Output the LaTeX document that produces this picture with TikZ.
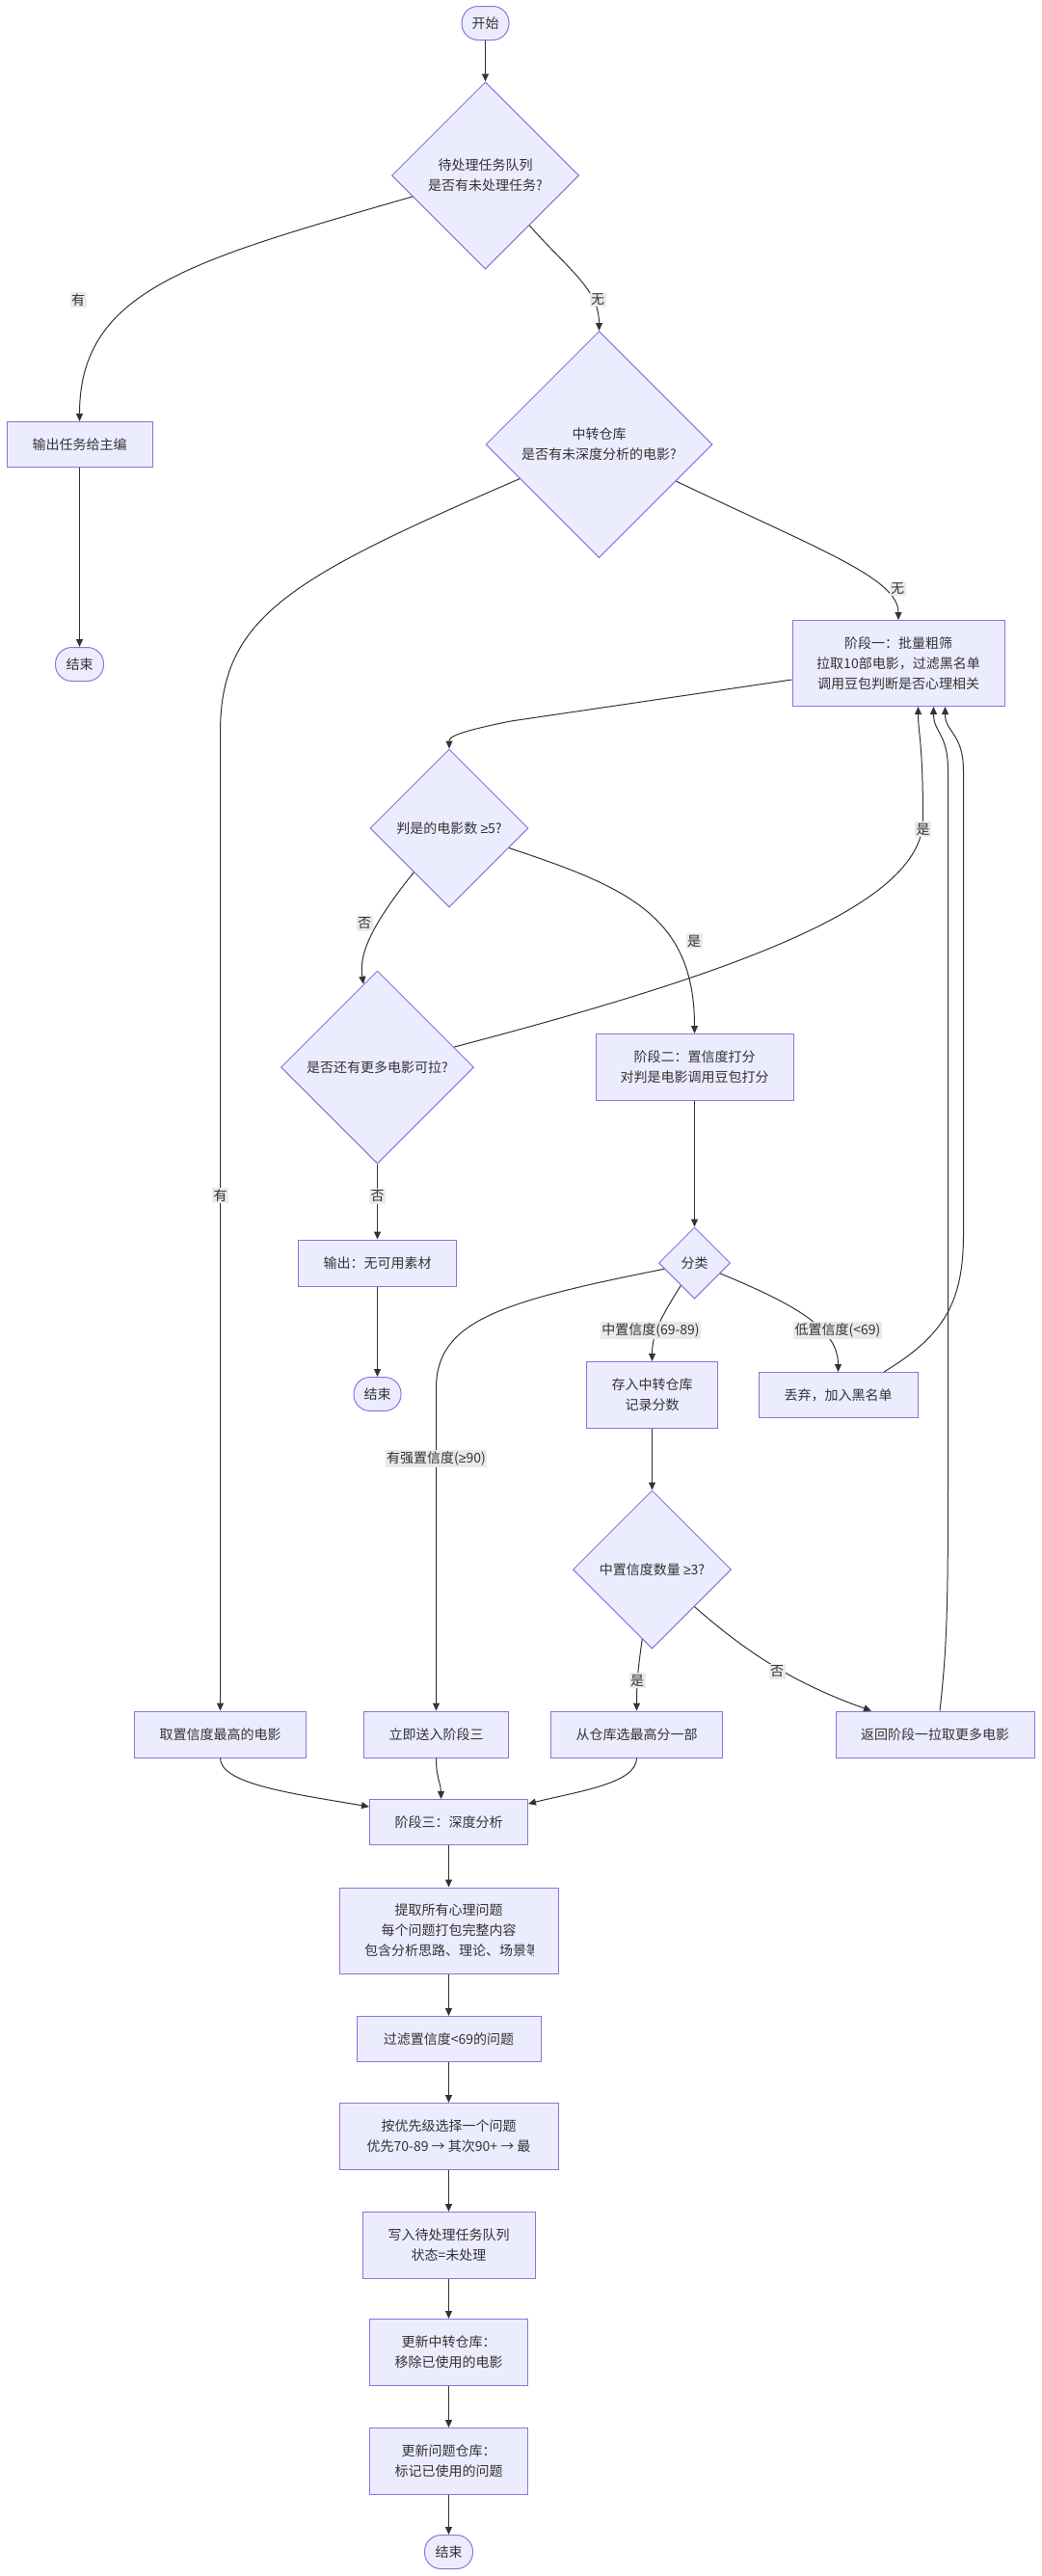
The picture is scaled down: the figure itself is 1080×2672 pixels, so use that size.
\documentclass[tikz,border=0pt]{standalone}
\usepackage{fontspec}
\setmainfont{Noto Sans CJK SC}
\newfontfamily\symf{Liberation Sans}
\newcommand{\mygeq}{{\symf ≥}}
\usetikzlibrary{shapes.geometric,arrows.meta}
\definecolor{nodefill}{HTML}{ECECFF}
\definecolor{nodeline}{HTML}{9370DB}
\definecolor{edgecol}{HTML}{333333}
\definecolor{txtcol}{HTML}{333333}
\definecolor{lblbg}{HTML}{EAEAEA}
\tikzset{
  basefont/.style={font=\fontsize{14}{21}\selectfont, text=txtcol},
  box/.style={basefont, rectangle, draw=nodeline, fill=nodefill, line width=1pt, inner sep=0pt, align=center},
  dec/.style={basefont, diamond, aspect=1, draw=nodeline, fill=nodefill, line width=1pt, inner sep=0pt, align=center},
  term/.style={box, rounded corners=17pt},
  lbl/.style={basefont, fill=lblbg, inner sep=1.5pt},
  flow/.style={draw=edgecol, line width=1pt, -{Triangle[length=8pt,width=7pt]}},
}
\begin{document}
\begin{tikzpicture}[x=1pt,y=-1pt]
\fill[white] (0,0) rectangle (1080,2672);
\useasboundingbox (0,0) rectangle (1080,2672);

% nodes
\node[term, minimum width=49pt, minimum height=35pt] (start) at (503.5,24) {开始};
\node[dec, minimum width=194pt, minimum height=194pt] (d1) at (503.5,182) {待处理任务队列\\是否有未处理任务?};
\node[box, minimum width=151pt, minimum height=47pt] (out1) at (82.5,461) {输出任务给主编};
\node[term, minimum width=50pt, minimum height=35pt] (end1) at (82.5,689) {结束};
\node[dec, minimum width=235pt, minimum height=235pt] (d2) at (621.5,461) {中转仓库\\是否有未深度分析的电影?};
\node[box, minimum width=220pt, minimum height=89pt] (s1) at (932,688) {阶段一：批量粗筛\\拉取10部电影，过滤黑名单\\调用豆包判断是否心理相关};
\node[dec, minimum width=164pt, minimum height=164pt] (d3) at (466,859) {判是的电影数 \mygeq5?};
\node[dec, minimum width=200pt, minimum height=200pt] (d4) at (391.5,1107) {是否还有更多电影可拉?};
\node[box, minimum width=205pt, minimum height=69pt] (s2) at (720.5,1107) {阶段二：置信度打分\\对判是电影调用豆包打分};
\node[box, minimum width=164pt, minimum height=48pt] (out2) at (391.5,1310) {输出：无可用素材};
\node[dec, minimum width=74pt, minimum height=74pt] (cls) at (720.5,1310) {分类};
\node[term, minimum width=49pt, minimum height=35pt] (end2) at (391.5,1446) {结束};
\node[box, minimum width=136pt, minimum height=69pt] (store) at (676.5,1447) {存入中转仓库\\记录分数};
\node[box, minimum width=165pt, minimum height=47pt] (drop) at (869.5,1447) {丢弃，加入黑名单};
\node[dec, minimum width=164pt, minimum height=164pt] (d5) at (676.5,1628) {中置信度数量 \mygeq3?};
\node[box, minimum width=178pt, minimum height=48pt] (top1) at (228.5,1799) {取置信度最高的电影};
\node[box, minimum width=150pt, minimum height=48pt] (now3) at (452.5,1799) {立即送入阶段三};
\node[box, minimum width=178pt, minimum height=48pt] (pick) at (660.5,1799) {从仓库选最高分一部};
\node[box, minimum width=206pt, minimum height=48pt] (back) at (970,1799) {返回阶段一拉取更多电影};
\node[box, minimum width=164pt, minimum height=47pt] (s3) at (465.5,1890) {阶段三：深度分析};
\node[box, minimum width=227pt, minimum height=89pt] (ext) at (465.5,2002.5) {提取所有心理问题\\每个问题打包完整内容\\\phantom{包}};
\begin{scope}
\clip (352,1960) rectangle (553,2045);
\node[basefont, anchor=west, inner sep=0pt] (ext3) at (378,2023) {包含分析思路、理论、场景等};
\end{scope}
\node[box, minimum width=191pt, minimum height=47pt] (filt) at (465.5,2115) {过滤置信度<69的问题};
\node[box, minimum width=227pt, minimum height=69pt] (prio) at (465.5,2216) {按优先级选择一个问题\\优先70-89 → 其次90+ → 最};
\node[box, minimum width=179pt, minimum height=69pt] (write) at (465.5,2329) {写入待处理任务队列\\状态=未处理};
\node[box, minimum width=164pt, minimum height=69pt] (upd1) at (465.5,2440) {更新中转仓库：\\移除已使用的电影};
\node[box, minimum width=164pt, minimum height=69pt] (upd2) at (465.5,2553) {更新问题仓库：\\标记已使用的问题};
\node[term, minimum width=50pt, minimum height=35pt] (end3) at (465.5,2647) {结束};

% edges
\draw[flow] (start) -- (d1);
\draw[flow] (d1) .. controls (200,270) and (82.5,300) .. (out1.north);
\draw[flow] (d1) .. controls (590,280) and (621.5,300) .. (d2.north);
\draw[flow] (out1) -- (end1);
\draw[flow] (d2) .. controls (300,600) and (228.5,640) .. (228.5,760) -- (top1.north);
\draw[flow] (d2) .. controls (850,570) and (932,600) .. (s1.north);
\draw[flow] ([yshift=-17pt]s1.west) -- (530,748) .. controls (470,760) and (466,765) .. (d3.north);
\draw[flow] (d3) .. controls (385,960) and (372,990) .. (d4);
\draw[flow] (d3) .. controls (650,920) and (720.5,950) .. (s2.north);
\draw[flow] (d4) .. controls (760,1010) and (957.5,940) .. (957.5,850) .. controls (957.5,770) and (952.5,760) .. ([xshift=20.5pt]s1.south);
\draw[flow] (d4) -- (out2);
\draw[flow] (out2) -- (end2);
\draw[flow] (s2) -- (cls);
\draw[flow] (cls) .. controls (520,1350) and (452.5,1370) .. (452.5,1440) -- (now3.north);
\draw[flow] (cls) .. controls (690,1360) and (676.5,1380) .. (store.north);
\draw[flow] (cls) .. controls (830,1355) and (869.5,1380) .. (drop.north);
\draw[flow] ([xshift=47.5pt]drop.north) .. controls (980,1385) and (999.5,1350) .. (999.5,1280) -- (999.5,800) .. controls (999.5,760) and (980.5,760) .. ([xshift=48.5pt]s1.south);
\draw[flow] (store) -- (d5);
\draw[flow] (d5) .. controls (662,1730) and (660.5,1745) .. (pick.north);
\draw[flow] (d5) .. controls (770,1710) and (820,1745) .. ([xshift=-66pt]back.north);
\draw[flow] ([xshift=5pt]back.north) .. controls (983.5,1700) and (983.5,1650) .. (983.5,1500) -- (983.5,800) .. controls (983.5,760) and (968.5,760) .. ([xshift=36.5pt]s1.south);
\draw[flow] (top1.south) .. controls (228.5,1850) and (300,1860) .. ([yshift=16pt]s3.west);
\draw[flow] (now3.south) .. controls (452.5,1845) and (457.5,1850) .. ([xshift=-8pt]s3.north);
\draw[flow] (pick.south) .. controls (660.5,1850) and (600,1858) .. ([yshift=19pt]s3.east);
\draw[flow] (s3) -- (ext);
\draw[flow] (ext) -- (filt);
\draw[flow] (filt) -- (prio);
\draw[flow] (prio) -- (write);
\draw[flow] (write) -- (upd1);
\draw[flow] (upd1) -- (upd2);
\draw[flow] (upd2) -- (end3);

% edge labels
\node[lbl] (l1) at (81,311) {有};
\node[lbl] (l2) at (620,311) {无};
\node[lbl] (l3) at (931,611) {无};
\node[lbl] (l4) at (228.5,1240) {有};
\node[lbl] (l5) at (378,958) {否};
\node[lbl] (l6) at (720,976) {是};
\node[lbl] (l7) at (957.5,860) {是};
\node[lbl] (l8) at (391.5,1241) {否};
\node[lbl] (l9) at (675,1380) {中置信度(69-89)};
\node[lbl] (l10) at (869,1380) {低置信度(<69)};
\node[lbl] (l11) at (452.5,1513) {有强置信度(\mygeq90)};
\node[lbl] (l12) at (661,1743) {是};
\node[lbl] (l13) at (806,1734) {否};
\end{tikzpicture}
\end{document}
